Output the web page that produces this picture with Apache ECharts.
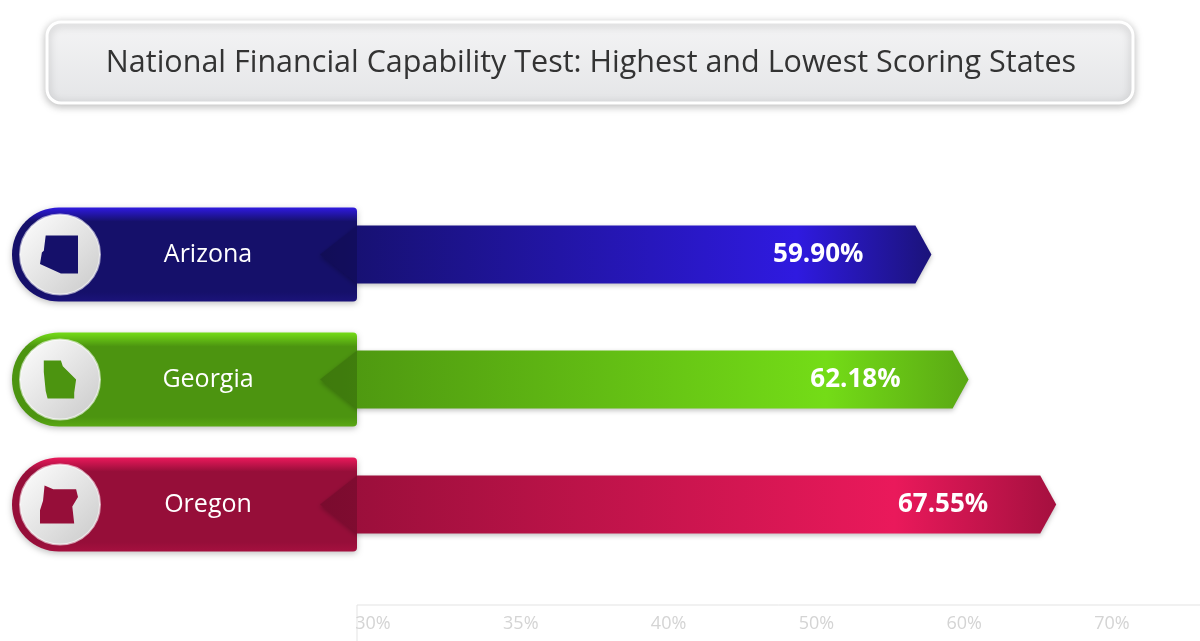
<!DOCTYPE html>
<html lang="en">
<head>
    <meta charset="UTF-8">
    <title>NFCT</title>
    <script src="https://cdn.jsdelivr.net/npm/echarts@6/dist/echarts.min.js"></script>
    <style>html,body{margin:0;background:#fff;}</style>
</head>
<body>
    <div id="main" style="width:1200px;height:641px;"></div>
    <script type="text/javascript">
        var states = ['Arizona', 'Georgia', 'Oregon'];
        var scores = [59.90, 62.18, 67.55];
        var tickLabels = ['30%', '35%', '40%', '50%', '60%', '70%'];
        var palette = [
            ['#15106a', '#2f1ae0', '#1b137a'],
            ['#4c9410', '#74dc17', '#5aa814'],
            ['#960e39', '#ea195b', '#a5103f']
        ];
        // rough state outlines, in a 0..1 box
        var shapes = [
            [[0.15,0],[1,0],[1,1],[0.55,1],[0,0.75],[0.05,0.45],[0.1,0.4]],
            [[0.1,0],[0.55,0],[0.6,0.15],[0.95,0.5],[0.9,0.85],[0.9,1],[0.2,1],[0.15,0.8],[0.1,0.3]],
            [[0.12,0],[0.35,0.1],[0.95,0.1],[1,0.3],[0.85,0.55],[0.9,1],[0,1],[0,0.65],[0.08,0.4]]
        ];

        var myChart = echarts.init(document.getElementById('main'));

        function renderItem(params, api) {
            var idx = api.value(1);
            var end = api.coord([api.value(0), idx]);
            var cy = end[1], ex = end[0];
            var c = palette[idx];
            var h = 29;
            var sw = shapes[idx].map(function (p) { return [40 + p[0] * 38, cy - 19 + p[1] * 38]; });
            return {
                type: 'group',
                children: [
                    {   // badge
                        type: 'rect',
                        shape: { x: 12, y: cy - 47, width: 345, height: 94, r: [47, 4, 4, 47] },
                        style: {
                            fill: new echarts.graphic.LinearGradient(0, 0, 0, 1, [
                                { offset: 0, color: c[1] }, { offset: 0.15, color: c[0] },
                                { offset: 0.9, color: c[0] }, { offset: 1, color: c[2] }
                            ]),
                            shadowBlur: 6, shadowColor: 'rgba(0,0,0,0.25)', shadowOffsetY: 2
                        }
                    },
                    {
                        type: 'circle',
                        shape: { cx: 60, cy: cy, r: 40 },
                        style: {
                            fill: new echarts.graphic.LinearGradient(0, 0, 1, 1, [
                                { offset: 0, color: '#ffffff' }, { offset: 1, color: '#c9c9c9' }
                            ]),
                            stroke: 'rgba(255,255,255,0.6)', lineWidth: 2
                        }
                    },
                    { type: 'polygon', shape: { points: sw }, style: { fill: c[0] } },
                    {
                        type: 'text',
                        style: {
                            x: 208, y: cy, text: states[idx], fill: '#fff',
                            font: '25px "Open Sans", sans-serif', align: 'center', verticalAlign: 'middle'
                        }
                    },
                    {   // ribbon
                        type: 'polygon',
                        shape: { points: [[357, cy - h], [ex, cy - h], [ex + 16, cy], [ex, cy + h], [357, cy + h], [320, cy]] },
                        style: {
                            fill: new echarts.graphic.LinearGradient(0, 0, 1, 0, [
                                { offset: 0, color: c[0] }, { offset: 0.78, color: c[1] }, { offset: 1, color: c[2] }
                            ]),
                            shadowBlur: 5, shadowColor: 'rgba(0,0,0,0.25)', shadowOffsetY: 2
                        }
                    },
                    {
                        type: 'polygon',
                        shape: { points: [[357, cy - h], [357, cy + h], [320, cy]] },
                        style: { fill: 'rgba(0,0,0,0.18)' }
                    },
                    {
                        type: 'text',
                        style: {
                            x: ex - 52, y: cy, text: api.value(0).toFixed(2) + '%', fill: '#fff',
                            font: 'bold 26px "Open Sans", sans-serif', align: 'right', verticalAlign: 'middle'
                        }
                    }
                ]
            };
        }

        option = {
            animation: false,
            grid: { left: 373, right: 88, top: 192, bottom: 74 },
            xAxis: [
                { type: 'value', min: 26.65, max: 71.95, show: false },
                {
                    type: 'category', data: tickLabels, boundaryGap: false, position: 'bottom', offset: 38,
                    axisLine: { show: false }, axisTick: { show: false },
                    axisLabel: { color: '#d4d4d4', fontSize: 18, fontFamily: 'Open Sans', margin: 10 }
                }
            ],
            yAxis: { type: 'category', data: states, inverse: true, show: false },
            graphic: [
                {
                    type: 'rect', shape: { x: 47, y: 22, width: 1086, height: 81, r: 14 },
                    style: {
                        fill: new echarts.graphic.LinearGradient(0, 0, 0, 1, [
                            { offset: 0, color: '#f4f4f5' }, { offset: 1, color: '#e4e5e7' }
                        ]),
                        stroke: '#ffffff', lineWidth: 3,
                        shadowBlur: 8, shadowColor: 'rgba(0,0,0,0.25)', shadowOffsetY: 2
                    }
                },
                {
                    type: 'text', x: 591, y: 63,
                    style: {
                        text: 'National Financial Capability Test: Highest and Lowest Scoring States',
                        fill: '#333', font: '30.5px "Open Sans", sans-serif', align: 'center', verticalAlign: 'middle'
                    }
                },
                {
                    type: 'line', shape: { x1: 357, y1: 605, x2: 1200, y2: 605 },
                    style: { stroke: '#e3e3e3', lineWidth: 1 }
                },
                {
                    type: 'line', shape: { x1: 357, y1: 605, x2: 357, y2: 641 },
                    style: { stroke: '#e3e3e3', lineWidth: 1 }
                }
            ],
            series: [{
                type: 'custom',
                renderItem: renderItem,
                encode: { x: 0, y: 1 },
                data: scores.map(function (v, i) { return [v, i]; })
            }]
        };

        myChart.setOption(option);
    </script>
</body>
</html>
